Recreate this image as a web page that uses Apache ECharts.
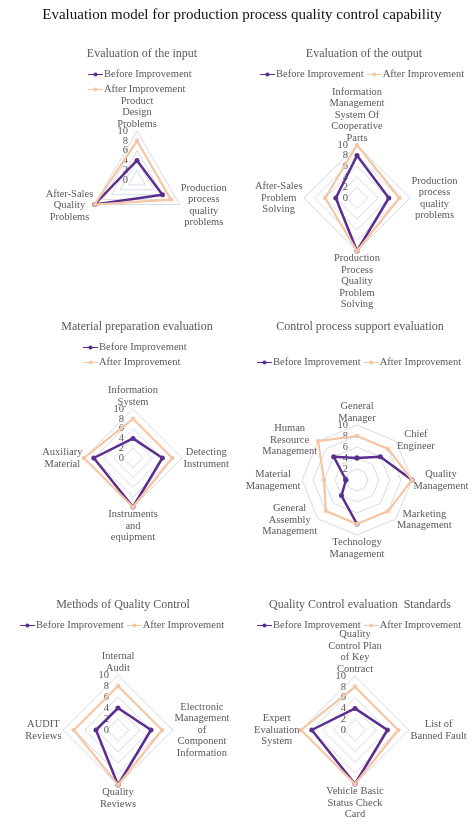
<!DOCTYPE html>
<html>
<head>
<meta charset="utf-8">
<script src="https://cdn.jsdelivr.net/npm/echarts@6/dist/echarts.min.js"></script>
<style>
  html, body { margin: 0; padding: 0; background: #fff; }
  #main { width: 474px; height: 828px; }
</style>
</head>
<body>
<div id="main"></div>
<script>
// values, 0-10 scale, Excel order (clockwise from top)
const inputNames = ['Product\nDesign\nProblems', 'Production\nprocess\nquality\nproblems', 'After-Sales\nQuality\nProblems'];
const inputBefore = [4, 6, 10];
const inputAfter = [8, 8, 10];

const outputNames = ['Information\nManagement\nSystem Of\nCooperative\nParts', 'Production\nprocess\nquality\nproblems',
  'Production\nProcess\nQuality\nProblem\nSolving', 'After-Sales\nProblem\nSolving'];
const outputBefore = [8, 6, 10, 4];
const outputAfter = [10, 8, 10, 6];

const materialNames = ['Information\nSystem', 'Detecting\nInstrument', 'Instruments\nand\nequipment', 'Auxiliary\nMaterial'];
const materialBefore = [4, 6, 10, 8];
const materialAfter = [8, 8, 10, 10];

const controlNames = ['General\nManager', 'Chief\nEngineer', 'Quality\nManagement', 'Marketing\nManagement',
  'Technology\nManagement', 'General\nAssembly\nManagement', 'Material\nManagement', 'Human\nResource\nManagement'];
const controlBefore = [4, 6, 10, null, 8, 4, 2, 6];   // marketing left empty in the source
const controlAfter = [8, 8, 10, 8, 8, 8, 6, 10];

const methodNames = ['Internal\nAudit', 'Electronic\nManagement\nof\nComponent\nInformation', 'Quality\nReviews', 'AUDIT\nReviews'];
const methodBefore = [4, 6, 10, 4];
const methodAfter = [8, 8, 10, 8];

const standardNames = ['Quality\nControl Plan\nof Key\nContract', 'List of\nBanned Fault', 'Vehicle Basic\nStatus Check\nCard', 'Expert\nEvaluation\nSystem'];
const standardBefore = [4, 6, 10, 8];
const standardAfter = [8, 8, 10, 10];

const ringLabels = ['0', '2', '4', '6', '8', '10'];

const FONT = 'Liberation Serif';
const GREY = '#595959';
const PURPLE = '#5b2d8e';
const PEACH = '#f4c6a4';
const GRID = '#d9dce6';
const ICON = 'path://M0,2.2H20V3.8H0Z M12.8,3A2.8,2.8 0 1 1 7.2,3A2.8,2.8 0 1 1 12.8,3Z';

const panels = [
  { title: 'Evaluation of the input', tx: 137, ty: 54, names: inputNames, before: inputBefore, after: inputAfter,
    center: [137, 180], radius: 49, legend: { left: 88, top: 69, orient: 'vertical' } },
  { title: 'Evaluation of the output', tx: 359, ty: 54, names: outputNames, before: outputBefore, after: outputAfter,
    center: [357, 198], radius: 53, legend: { left: 260, top: 69, orient: 'horizontal' } },
  { title: 'Material preparation evaluation', tx: 132, ty: 327, names: materialNames, before: materialBefore, after: materialAfter,
    center: [133, 458], radius: 49, legend: { left: 83, top: 342, orient: 'vertical' } },
  { title: 'Control process support evaluation', tx: 355, ty: 327, names: controlNames, before: controlBefore, after: controlAfter,
    center: [357, 480], radius: 55, legend: { left: 257, top: 357, orient: 'horizontal' }, gap: true },
  { title: 'Methods of Quality Control', tx: 118, ty: 605, names: methodNames, before: methodBefore, after: methodAfter,
    center: [118, 730], radius: 55, legend: { left: 20, top: 620, orient: 'horizontal' } },
  { title: 'Quality Control evaluation  Standards', tx: 355, ty: 605, names: standardNames, before: standardBefore, after: standardAfter,
    center: [355, 730], radius: 54, legend: { left: 257, top: 620, orient: 'horizontal' } }
];

// echarts lays indicators out counter-clockwise, Excel clockwise
function cw(arr) {
  return [arr[0]].concat(arr.slice(1).reverse());
}

function centred(name) {
  return name.split('\n').map(function (s) { return '{c|' + s + '}'; }).join('\n');
}

// the ring labels sit only ~10px apart and echarts drops the 2 / 8 next to the min / max,
// so they are split over the real radar and a bare twin laid on top of it
const setA = [0, 2, 3, 5];
const setB = [1, 4];
function ringLabel(set) {
  return function (v) {
    const k = Math.round(v / 2);
    return set.indexOf(k) >= 0 ? ringLabels[k] : '';
  };
}
const labelStyle = { color: GREY, fontFamily: FONT, fontSize: 10.5, margin: 9 };

const titles = [{
  text: 'Evaluation model for production process quality control capability',
  left: 237, top: 3, textAlign: 'center',
  textStyle: { fontFamily: FONT, fontSize: 15, fontWeight: 'normal', color: '#111' }
}];
const legends = [];
const radars = [];
const twins = [];
const series = [];
const polars = [];
const angleAxes = [];
const radiusAxes = [];

panels.forEach(function (p, i) {
  titles.push({
    text: p.title, left: p.tx, top: p.ty - 11, textAlign: 'center',
    textStyle: { fontFamily: FONT, fontSize: 12, fontWeight: 'normal', color: GREY }
  });
  legends.push({
    left: p.legend.left, top: p.legend.top, orient: p.legend.orient,
    itemWidth: 15, itemHeight: 5, itemGap: p.legend.orient === 'vertical' ? 4 : 3,
    padding: 0, icon: ICON, selectedMode: false,
    textStyle: { fontFamily: FONT, fontSize: 10.5, color: GREY, padding: [0, 0, 0, -4] },
    data: ['Before Improvement', 'After Improvement']
  });
  radars.push({
    center: p.center, radius: p.radius, shape: 'polygon', splitNumber: 5, nameGap: 1.5,
    indicator: cw(p.names).map(function (n, k) {
      const ind = { name: n, min: 0, max: 10 };
      if (k === 0) {
        ind.axisLabel = { show: true };
        ind.nameMoveOverlap = false;
      }
      return ind;
    }),
    axisName: {
      color: GREY, fontFamily: FONT, fontSize: 10.5, lineHeight: 11.5,
      formatter: centred,
      rich: { c: { align: 'center', color: GREY, fontFamily: FONT, fontSize: 10.5, lineHeight: 11.5 } }
    },
    axisLine: { show: false },
    axisTick: { show: false },
    splitArea: { show: false },
    splitLine: { lineStyle: { color: GRID, width: 1 } },
    axisLabel: Object.assign({ show: false, showMinLabel: true, showMaxLabel: true, formatter: ringLabel(setA) }, labelStyle)
  });
  twins.push({
    center: p.center, radius: p.radius, shape: 'polygon', splitNumber: 5, silent: true,
    indicator: p.names.map(function (n, k) {
      const ind = { name: '', min: 0, max: 10 };
      if (k === 0) ind.axisLabel = { show: true };
      return ind;
    }),
    axisName: { show: false },
    axisLine: { show: false },
    axisTick: { show: false },
    splitArea: { show: false },
    splitLine: { show: false },
    axisLabel: Object.assign({ show: false, showMinLabel: false, showMaxLabel: false, formatter: ringLabel(setB) }, labelStyle)
  });

  if (p.gap) {
    // radar polygons cannot leave a hole, so the broken line goes on a polar system laid over the radar
    const pi = polars.length;
    polars.push({ center: p.center, radius: p.radius });
    const n = p.before.length;
    angleAxes.push({ polarIndex: pi, type: 'value', min: 0, max: n, startAngle: 90, clockwise: true,
      axisLine: { show: false }, axisTick: { show: false }, axisLabel: { show: false }, splitLine: { show: false } });
    radiusAxes.push({ polarIndex: pi, min: 0, max: 10,
      axisLine: { show: false }, axisTick: { show: false }, axisLabel: { show: false }, splitLine: { show: false } });
    const pts = p.before.map(function (v, k) { return [v == null ? '-' : v, k]; });
    pts.push([p.before[0], n]);
    series.push({
      type: 'line', name: 'Before Improvement', coordinateSystem: 'polar', polarIndex: pi,
      data: pts, connectNulls: false, symbol: 'circle', symbolSize: 5, showSymbol: true,
      lineStyle: { color: PURPLE, width: 2.5 }, itemStyle: { color: PURPLE }, z: 3
    });
  } else {
    series.push({
      type: 'radar', radarIndex: i, name: 'Before Improvement', symbol: 'circle', symbolSize: 5,
      lineStyle: { color: PURPLE, width: 2.5 }, itemStyle: { color: PURPLE }, z: 3,
      data: [{ value: cw(p.before), name: 'Before Improvement' }]
    });
  }
  series.push({
    type: 'radar', radarIndex: i, name: 'After Improvement', symbol: 'circle', symbolSize: 4.5,
    lineStyle: { color: PEACH, width: 2.2 }, itemStyle: { color: PEACH }, z: 4,
    data: [{ value: cw(p.after), name: 'After Improvement' }]
  });
});

const chart = echarts.init(document.getElementById('main'));
chart.setOption({
  backgroundColor: '#fff',
  animation: false,
  title: titles,
  legend: legends,
  radar: radars.concat(twins),
  polar: polars,
  angleAxis: angleAxes,
  radiusAxis: radiusAxes,
  series: series
});
</script>
</body>
</html>
